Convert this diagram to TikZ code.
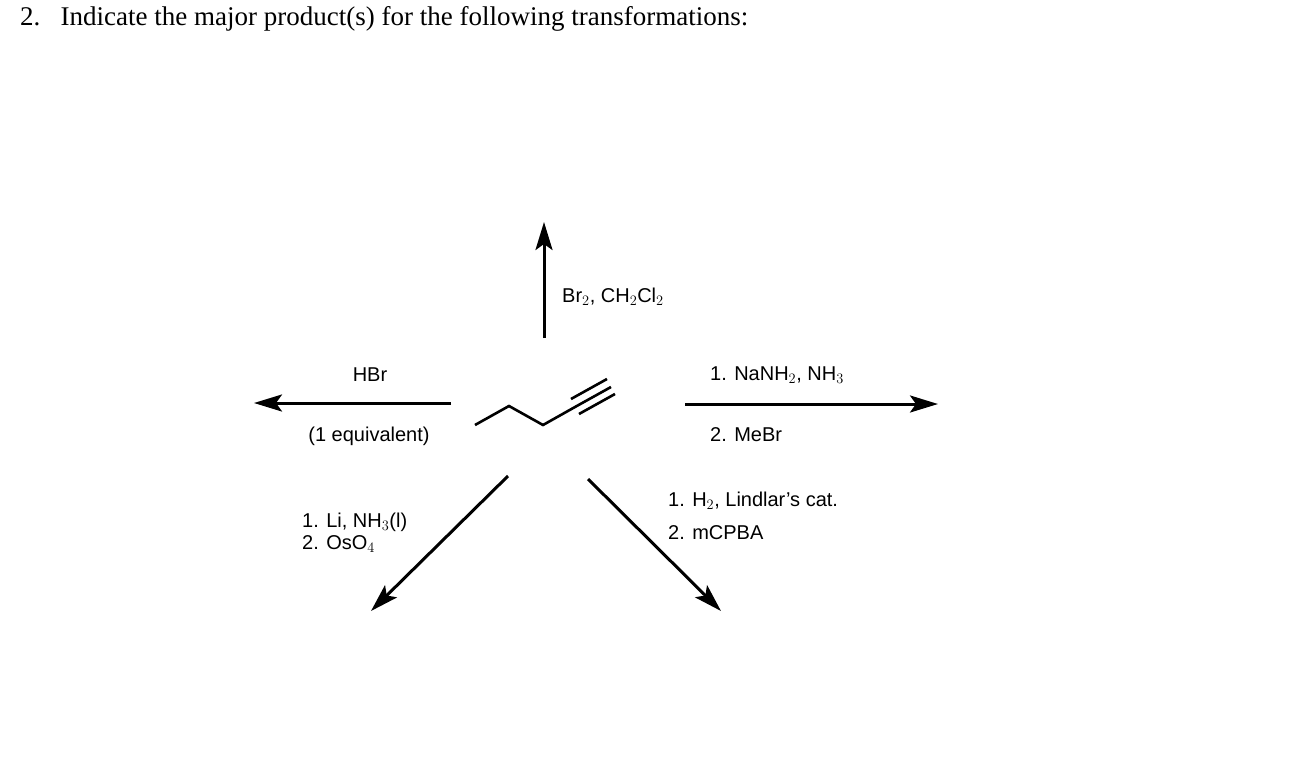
\documentclass[tikz,border=0pt]{standalone}
\usepackage{fontspec}
\setmainfont{Liberation Sans}
\newfontfamily\serif{Liberation Serif}
\usetikzlibrary{arrows.meta}
\begin{document}
\begin{tikzpicture}[x=1pt,y=-1pt,
  rxn/.style={line width=3pt,-{Stealth[length=28pt,width=17pt,inset=6pt]}},
  bond/.style={line width=2.6pt},
  lbl/.style={font=\fontsize{20}{24}\selectfont,inner sep=0pt}]
\useasboundingbox (0,0) rectangle (1310,758);
\node[anchor=west,inner sep=0pt,font=\serif\fontsize{27}{30}\selectfont] (t) at (20,19) {2.\hspace{0.75em}Indicate the major product(s) for the following transformations:};
% molecule
\coordinate (a1) at (475,425);
\coordinate (a2) at (509,406);
\coordinate (a3) at (543,425);
\coordinate (a4) at (575,407);
\coordinate (a5) at (611,387);
\draw[bond,line join=miter] (a1)--(a2)--(a3)--(a4)--(a5);
\draw[bond] (571,399)--(607,379);
\draw[bond] (579,414)--(615,394);
% arrows
\coordinate (u0) at (544,338); \coordinate (u1) at (544,222);
\coordinate (l0) at (451,403); \coordinate (l1) at (254,403);
\coordinate (r0) at (685,404); \coordinate (r1) at (938,404);
\coordinate (dl0) at (508,476); \coordinate (dl1) at (371,611);
\coordinate (dr0) at (588,479); \coordinate (dr1) at (721,611);
\draw[rxn] (u0)--(u1);
\draw[rxn] (l0)--(l1);
\draw[rxn] (r0)--(r1);
\draw[rxn] (dl0)--(dl1);
\draw[rxn] (dr0)--(dr1);
% labels
\node[lbl,anchor=west] (br) at (562,297) {Br$_2$, CH$_2$Cl$_2$};
\node[lbl] (hbr) at (370,375) {HBr};
\node[lbl] (eq) at (369,436) {(1 equivalent)};
\node[lbl,anchor=west] (na) at (710,375) {1. NaNH$_2$, NH$_3$};
\node[lbl,anchor=west] (me) at (710,435) {2. MeBr};
\node[lbl,anchor=west] (li) at (302,522) {1. Li, NH$_3$(l)};
\node[lbl,anchor=west] (os) at (302,544) {2. OsO$_4$};
\node[lbl,anchor=west] (h2) at (668,501) {1. H$_2$, Lindlar's cat.};
\node[lbl,anchor=west] (mc) at (668,533) {2. mCPBA};
\end{tikzpicture}
\end{document}
